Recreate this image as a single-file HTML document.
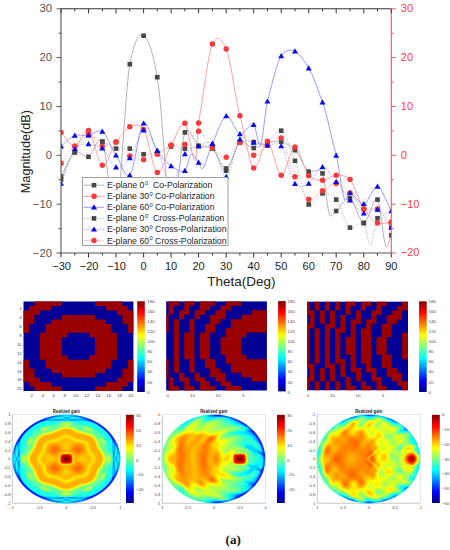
<!DOCTYPE html>
<html><head><meta charset="utf-8"><style>
html,body{margin:0;padding:0;background:#fff;width:450px;height:550px;overflow:hidden}
body{position:relative}
</style></head><body>
<svg width="450" height="550" viewBox="0 0 450 550" style="position:absolute;left:0;top:0"><defs><linearGradient id="jet" x1="0" y1="0" x2="0" y2="1"><stop offset="0.000" stop-color="#800000"/><stop offset="0.125" stop-color="#ff0000"/><stop offset="0.375" stop-color="#ffff00"/><stop offset="0.625" stop-color="#00ffff"/><stop offset="0.875" stop-color="#0000ff"/><stop offset="1.000" stop-color="#000080"/></linearGradient></defs>
<defs><clipPath id="pc"><rect x="61.0" y="8.8" width="330.3" height="244.2"/></clipPath></defs>
<g clip-path="url(#pc)">
<path d="M61.0,176.6 L62.4,174.0 L63.8,171.2 L65.1,168.3 L66.5,165.4 L67.9,162.5 L69.3,159.7 L70.6,157.3 L72.0,155.1 L73.4,153.4 L74.8,152.3 L76.1,151.8 L77.5,151.8 L78.9,152.3 L80.3,153.1 L81.6,154.0 L83.0,155.0 L84.4,155.9 L85.8,156.6 L87.1,156.9 L88.5,156.8 L89.9,155.8 L91.3,153.9 L92.7,151.3 L94.0,148.5 L95.4,145.6 L96.8,143.1 L98.2,141.1 L99.5,140.0 L100.9,140.1 L102.3,141.7 L103.7,146.0 L105.0,153.4 L106.4,162.9 L107.8,173.8 L109.2,185.0 L110.5,195.6 L111.9,204.7 L113.3,211.4 L114.7,214.8 L116.0,213.9 L117.4,207.7 L118.8,196.6 L120.2,181.5 L121.6,163.7 L122.9,144.4 L124.3,124.6 L125.7,105.6 L127.1,88.4 L128.4,74.2 L129.8,64.2 L131.2,57.2 L132.6,51.3 L133.9,46.5 L135.3,42.7 L136.7,39.8 L138.1,37.6 L139.4,36.2 L140.8,35.5 L142.2,35.3 L143.6,35.7 L145.0,36.6 L146.3,38.3 L147.7,40.7 L149.1,43.8 L150.5,47.6 L151.8,52.2 L153.2,57.4 L154.6,63.3 L156.0,69.9 L157.3,77.2 L158.7,86.9 L160.1,100.3 L161.5,116.4 L162.8,134.0 L164.2,152.1 L165.6,169.7 L167.0,185.7 L168.3,199.1 L169.7,208.9 L171.1,213.9 L172.5,213.8 L173.9,209.4 L175.2,201.6 L176.6,191.4 L178.0,179.7 L179.4,167.5 L180.7,155.7 L182.1,145.3 L183.5,137.2 L184.9,132.4 L186.2,130.4 L187.6,129.9 L189.0,130.7 L190.4,132.4 L191.7,134.8 L193.1,137.5 L194.5,140.3 L195.9,142.8 L197.2,144.8 L198.6,146.0 L200.0,146.6 L201.4,146.9 L202.8,147.0 L204.1,147.0 L205.5,146.9 L206.9,146.9 L208.3,147.0 L209.6,147.2 L211.0,147.7 L212.4,148.5 L213.8,149.8 L215.1,151.9 L216.5,154.4 L217.9,157.1 L219.3,160.0 L220.6,162.7 L222.0,165.1 L223.4,167.0 L224.8,168.2 L226.2,168.5 L227.5,167.7 L228.9,165.8 L230.3,163.1 L231.7,159.9 L233.0,156.3 L234.4,152.7 L235.8,149.3 L237.2,146.3 L238.5,144.0 L239.9,142.6 L241.3,142.1 L242.7,142.1 L244.0,142.5 L245.4,143.2 L246.8,144.2 L248.2,145.2 L249.5,146.3 L250.9,147.1 L252.3,147.7 L253.7,148.0 L255.1,147.9 L256.4,147.6 L257.8,147.1 L259.2,146.6 L260.6,145.9 L261.9,145.2 L263.3,144.6 L264.7,144.0 L266.1,143.5 L267.4,143.1 L268.8,142.8 L270.2,142.5 L271.6,142.2 L272.9,141.9 L274.3,141.7 L275.7,141.5 L277.1,141.3 L278.4,141.3 L279.8,141.4 L281.2,141.6 L282.6,142.0 L284.0,142.5 L285.3,143.1 L286.7,143.9 L288.1,144.7 L289.5,145.6 L290.8,146.7 L292.2,147.8 L293.6,148.9 L295.0,150.2 L296.3,151.7 L297.7,153.7 L299.1,156.1 L300.5,158.6 L301.8,161.2 L303.2,163.9 L304.6,166.3 L306.0,168.5 L307.3,170.3 L308.7,171.6 L310.1,172.2 L311.5,172.3 L312.9,171.9 L314.2,171.3 L315.6,170.7 L317.0,170.2 L318.4,170.1 L319.7,170.4 L321.1,171.5 L322.5,173.4 L323.2,175.4 L323.9,178.6 L324.6,182.9 L325.2,187.9 L325.9,193.2 L326.6,198.5 L327.3,203.6 L328.0,208.1 L328.7,211.6 L329.4,213.9 L330.1,215.2 L330.7,215.8 L331.4,215.9 L332.1,215.6 L332.8,215.0 L333.5,214.2 L334.2,213.3 L334.9,212.4 L335.6,211.6 L336.2,211.0 L337.6,209.9 L339.0,208.4 L340.4,206.6 L341.8,204.8 L343.1,202.9 L344.5,201.2 L345.9,199.7 L347.3,198.7 L348.6,198.2 L350.0,198.3 L351.4,199.4 L352.8,201.5 L354.1,204.3 L355.5,207.7 L356.9,211.2 L358.3,214.7 L359.6,217.9 L361.0,220.5 L362.4,222.3 L363.8,223.0 L365.2,222.2 L366.5,220.2 L367.9,217.2 L369.3,213.6 L370.7,209.8 L372.0,206.1 L373.4,202.9 L374.8,200.5 L376.2,199.3 L377.5,199.6 L378.4,201.4 L379.2,204.8 L380.0,209.6 L380.8,215.3 L381.7,221.5 L382.5,227.9 L383.3,233.9 L384.1,239.2 L385.0,243.5 L385.8,246.2 L386.3,246.9 L386.9,246.9 L387.4,246.3 L388.0,245.1 L388.5,243.6 L389.1,241.8 L389.6,240.0 L390.2,238.1 L390.7,236.5 L391.3,235.2" stroke="#a0a0a0" fill="none" stroke-width="0.8"/>
<path d="M61.0,132.5 L62.4,134.0 L63.8,135.7 L65.1,137.5 L66.5,139.4 L67.9,141.2 L69.3,142.8 L70.6,144.2 L72.0,145.3 L73.4,146.0 L74.8,146.2 L76.1,145.6 L77.5,144.2 L78.9,142.2 L80.3,139.8 L81.6,137.2 L83.0,134.8 L84.4,132.6 L85.8,131.1 L87.1,130.3 L88.5,130.5 L89.9,132.1 L91.3,135.0 L92.7,138.9 L94.0,143.5 L95.4,148.3 L96.8,153.1 L98.2,157.6 L99.5,161.3 L100.9,164.0 L102.3,165.3 L103.7,165.2 L105.0,164.0 L106.4,162.0 L107.8,159.4 L109.2,156.3 L110.5,153.0 L111.9,149.7 L113.3,146.7 L114.7,144.0 L116.0,142.0 L117.4,140.3 L118.8,138.5 L120.2,136.6 L121.6,134.8 L122.9,133.0 L124.3,131.3 L125.7,129.8 L127.1,128.5 L128.4,127.4 L129.8,126.7 L131.2,126.2 L132.6,125.7 L133.9,125.3 L135.3,125.0 L136.7,124.9 L138.1,125.1 L139.4,125.6 L140.8,126.4 L142.2,127.7 L143.6,129.4 L145.0,132.1 L146.3,136.1 L147.7,141.1 L149.1,146.7 L150.5,152.5 L151.8,158.2 L153.2,163.3 L154.6,167.7 L156.0,170.8 L157.3,172.4 L158.7,172.4 L160.1,171.1 L161.5,168.9 L162.8,165.8 L164.2,162.3 L165.6,158.5 L167.0,154.7 L168.3,151.0 L169.7,147.8 L171.1,145.3 L172.5,142.9 L173.9,140.1 L175.2,137.0 L176.6,133.9 L178.0,130.8 L179.4,128.0 L180.7,125.7 L182.1,124.0 L183.5,123.2 L184.9,123.3 L185.9,124.8 L187.0,127.9 L188.0,132.2 L189.0,137.3 L190.1,142.7 L191.1,148.1 L192.2,153.0 L193.2,157.0 L194.3,159.7 L195.3,160.7 L195.7,159.8 L196.0,157.4 L196.3,153.8 L196.6,149.3 L197.0,144.3 L197.3,139.1 L197.6,134.0 L198.0,129.5 L198.3,125.7 L198.6,123.1 L200.0,114.7 L201.4,105.6 L202.8,96.2 L204.1,86.7 L205.5,77.5 L206.9,68.7 L208.3,60.6 L209.6,53.7 L211.0,48.0 L212.4,44.0 L213.8,41.3 L215.1,39.5 L216.5,38.5 L217.9,38.3 L219.3,38.8 L220.6,39.9 L222.0,41.5 L223.4,43.6 L224.8,46.2 L226.2,49.1 L227.5,53.0 L228.9,58.3 L230.3,64.8 L231.7,72.1 L233.0,79.9 L234.4,87.9 L235.8,95.9 L237.2,103.3 L238.5,110.1 L239.9,115.8 L241.3,121.2 L242.7,127.3 L244.0,133.8 L245.4,140.4 L246.8,146.8 L248.2,152.9 L249.5,158.3 L250.9,162.8 L252.3,166.1 L253.7,168.0 L255.1,168.1 L256.4,166.5 L257.8,163.7 L259.2,159.9 L260.6,155.6 L261.9,151.3 L263.3,147.3 L264.7,144.0 L266.1,141.9 L267.4,141.3 L268.8,142.5 L270.2,145.1 L271.6,148.9 L272.9,153.4 L274.3,158.3 L275.7,163.2 L277.1,167.7 L278.4,171.5 L279.8,174.1 L281.2,175.2 L282.6,174.6 L284.0,172.6 L285.3,169.5 L286.7,165.6 L288.1,161.4 L289.5,157.2 L290.8,153.3 L292.2,150.1 L293.6,147.9 L295.0,147.1 L296.3,147.8 L297.7,149.7 L299.1,152.4 L300.5,155.9 L301.8,159.7 L303.2,163.6 L304.6,167.5 L306.0,170.9 L307.3,173.7 L308.7,175.7 L310.1,177.0 L311.5,178.0 L312.9,178.7 L314.2,179.3 L315.6,179.7 L317.0,180.0 L318.4,180.2 L319.7,180.2 L321.1,180.2 L322.5,180.2 L323.9,180.1 L325.2,179.7 L326.6,179.2 L328.0,178.5 L329.4,177.8 L330.7,177.1 L332.1,176.4 L333.5,175.9 L334.9,175.5 L336.2,175.3 L337.6,175.3 L339.0,175.3 L340.4,175.3 L341.8,175.4 L343.1,175.6 L344.5,176.0 L345.9,176.6 L347.3,177.3 L348.6,178.3 L350.0,179.6 L351.4,181.4 L352.8,183.9 L354.1,186.9 L355.5,190.3 L356.9,193.8 L358.3,197.4 L359.6,200.9 L361.0,204.1 L362.4,206.9 L363.8,209.0 L365.2,210.9 L366.5,212.7 L367.9,214.4 L369.3,216.1 L370.7,217.6 L372.0,219.0 L373.4,220.3 L374.8,221.4 L376.2,222.3 L377.5,223.0 L378.9,223.4 L380.3,223.6 L381.7,223.7 L383.0,223.6 L384.4,223.4 L385.8,223.1 L387.2,222.8 L388.5,222.6 L389.9,222.4 L391.3,222.2" stroke="#ff8a8a" fill="none" stroke-width="0.8"/>
<path d="M61.0,146.2 L62.4,145.1 L63.8,143.9 L65.1,142.6 L66.5,141.4 L67.9,140.1 L69.3,139.0 L70.6,137.9 L72.0,136.9 L73.4,136.2 L74.8,135.6 L76.1,135.2 L77.5,135.0 L78.9,135.0 L80.3,135.0 L81.6,135.1 L83.0,135.2 L84.4,135.3 L85.8,135.4 L87.1,135.4 L88.5,135.3 L89.9,135.0 L91.3,134.4 L92.7,133.7 L94.0,132.9 L95.4,132.2 L96.8,131.5 L98.2,131.1 L99.5,130.9 L100.9,131.0 L102.3,131.6 L103.7,132.8 L105.0,134.6 L106.4,136.8 L107.8,139.4 L109.2,142.2 L110.5,145.1 L111.9,148.0 L113.3,150.8 L114.7,153.2 L116.0,155.3 L117.4,157.5 L118.8,160.2 L120.2,163.2 L121.6,166.3 L122.9,169.3 L124.3,172.0 L125.7,174.2 L127.1,175.6 L128.4,176.0 L129.8,175.3 L131.2,172.9 L132.6,168.5 L133.9,162.8 L135.3,156.1 L136.7,149.0 L138.1,141.9 L139.4,135.3 L140.8,129.7 L142.2,125.6 L143.6,123.4 L145.0,123.2 L146.3,124.3 L147.7,126.6 L149.1,129.8 L150.5,133.5 L151.8,137.5 L153.2,141.5 L154.6,145.2 L156.0,148.4 L157.3,150.7 L158.7,152.5 L160.1,154.3 L161.5,156.1 L162.8,157.9 L164.2,159.6 L165.6,161.2 L167.0,162.6 L168.3,164.0 L169.7,165.1 L171.1,166.1 L172.5,166.9 L173.9,167.9 L175.2,168.8 L176.6,169.6 L178.0,170.3 L179.4,170.9 L180.7,171.3 L182.1,171.4 L183.5,171.2 L184.9,170.7 L185.5,170.0 L186.2,168.6 L186.8,166.8 L187.5,164.6 L188.2,162.3 L188.8,159.9 L189.5,157.8 L190.1,155.9 L190.8,154.6 L191.5,153.9 L192.2,153.7 L192.9,154.1 L193.6,154.7 L194.3,155.7 L195.0,156.8 L195.8,158.1 L196.5,159.4 L197.2,160.6 L197.9,161.7 L198.6,162.6 L199.0,163.2 L199.5,164.0 L199.9,164.9 L200.3,165.8 L200.7,166.8 L201.1,167.6 L201.5,168.3 L201.9,168.7 L202.3,168.8 L202.8,168.5 L203.7,167.0 L204.7,165.0 L205.6,162.5 L206.6,159.8 L207.6,156.8 L208.5,153.8 L209.5,150.8 L210.5,148.0 L211.4,145.4 L212.4,143.4 L213.8,140.5 L215.1,137.3 L216.5,133.8 L217.9,130.3 L219.3,126.9 L220.6,123.7 L222.0,120.8 L223.4,118.5 L224.8,116.9 L226.2,116.0 L227.5,116.2 L228.9,117.2 L230.3,119.1 L231.7,121.4 L233.0,124.0 L234.4,126.7 L235.8,129.3 L237.2,131.5 L238.5,133.1 L239.9,134.0 L241.3,134.0 L242.7,133.3 L244.0,132.1 L245.4,130.7 L246.8,129.0 L248.2,127.5 L249.5,126.1 L250.9,125.0 L252.3,124.5 L253.7,124.7 L254.4,125.6 L255.1,127.5 L255.7,130.1 L256.4,133.1 L257.1,136.3 L257.8,139.3 L258.5,141.9 L259.2,143.9 L259.9,144.8 L260.6,144.6 L261.2,142.8 L261.9,139.6 L262.6,135.4 L263.3,130.3 L264.0,124.9 L264.7,119.2 L265.4,113.8 L266.1,108.7 L266.7,104.5 L267.4,101.4 L268.8,96.2 L270.2,90.9 L271.6,85.5 L272.9,80.2 L274.3,75.1 L275.7,70.2 L277.1,65.8 L278.4,61.9 L279.8,58.6 L281.2,56.0 L282.6,54.1 L284.0,52.6 L285.3,51.6 L286.7,50.8 L288.1,50.4 L289.5,50.2 L290.8,50.2 L292.2,50.4 L293.6,50.8 L295.0,51.3 L296.3,52.0 L297.7,53.0 L299.1,54.3 L300.5,55.9 L301.8,57.7 L303.2,59.6 L304.6,61.7 L306.0,63.8 L307.3,66.0 L308.7,68.2 L310.1,70.6 L311.5,73.3 L312.9,76.4 L314.2,79.7 L315.6,83.3 L317.0,87.0 L318.4,90.8 L319.7,94.6 L321.1,98.5 L322.5,102.2 L323.9,106.3 L325.2,110.9 L326.6,116.0 L328.0,121.4 L329.4,127.1 L330.7,133.0 L332.1,138.8 L333.5,144.7 L334.9,150.3 L336.2,155.6 L337.1,159.2 L337.9,163.5 L338.7,168.4 L339.6,173.6 L340.4,178.9 L341.2,184.1 L342.0,189.0 L342.9,193.3 L343.7,196.8 L344.5,199.3 L345.1,200.1 L345.6,200.2 L346.2,199.7 L346.7,198.8 L347.3,197.5 L347.8,196.2 L348.4,194.9 L348.9,193.8 L349.5,193.1 L350.0,192.9 L351.4,193.5 L352.8,194.5 L354.1,195.9 L355.5,197.5 L356.9,199.1 L358.3,200.7 L359.6,202.1 L361.0,203.2 L362.4,203.9 L363.8,203.9 L365.2,203.2 L366.5,201.7 L367.9,199.6 L369.3,197.1 L370.7,194.5 L372.0,192.0 L373.4,189.7 L374.8,187.9 L376.2,186.8 L377.5,186.6 L378.9,187.3 L380.3,188.7 L381.7,190.8 L383.0,193.3 L384.4,196.1 L385.8,199.2 L387.2,202.3 L388.5,205.4 L389.9,208.4 L391.3,211.0" stroke="#8080ff" fill="none" stroke-width="0.8"/>
<path d="M61.0,179.7 L62.4,176.9 L63.8,174.0 L65.1,171.0 L66.5,167.9 L67.9,165.0 L69.3,162.0 L70.6,159.3 L72.0,156.7 L73.4,154.3 L74.8,152.3 L76.1,150.3 L77.5,148.2 L78.9,146.1 L80.3,144.0 L81.6,141.9 L83.0,140.0 L84.4,138.4 L85.8,136.9 L87.1,135.9 L88.5,135.2 L89.9,135.0 L91.3,135.1 L92.7,135.6 L94.0,136.3 L95.4,137.2 L96.8,138.2 L98.2,139.2 L99.5,140.1 L100.9,141.0 L102.3,141.7 L103.7,142.3 L105.0,143.1 L106.4,143.8 L107.8,144.7 L109.2,145.5 L110.5,146.3 L111.9,147.1 L113.3,147.7 L114.7,148.2 L116.0,148.6 L117.4,148.8 L118.8,148.9 L120.2,148.9 L121.6,148.8 L122.9,148.7 L124.3,148.6 L125.7,148.5 L127.1,148.4 L128.4,148.5 L129.8,148.6 L131.2,149.0 L132.6,149.5 L133.9,150.1 L135.3,150.8 L136.7,151.5 L138.1,152.3 L139.4,153.0 L140.8,153.6 L142.2,154.0 L143.6,154.3 L145.0,154.4 L146.3,154.5 L147.7,154.5 L149.1,154.4 L150.5,154.2 L151.8,154.0 L153.2,153.8 L154.6,153.5 L156.0,153.2 L157.3,152.9 L158.7,152.4 L160.1,151.9 L161.5,151.1 L162.8,150.3 L164.2,149.5 L165.6,148.7 L167.0,148.0 L168.3,147.3 L169.7,146.8 L171.1,146.5 L172.5,146.4 L173.9,146.5 L175.2,146.7 L176.6,147.0 L178.0,147.4 L179.4,147.7 L180.7,148.1 L182.1,148.4 L183.5,148.6 L184.9,148.6 L186.2,148.5 L187.6,148.3 L189.0,148.0 L190.4,147.7 L191.7,147.3 L193.1,146.9 L194.5,146.6 L195.9,146.3 L197.2,146.1 L198.6,146.0 L200.0,146.0 L201.4,146.0 L202.8,145.9 L204.1,145.9 L205.5,145.9 L206.9,146.1 L208.3,146.4 L209.6,146.9 L211.0,147.6 L212.4,148.5 L213.8,150.0 L215.1,152.2 L216.5,155.0 L217.9,158.1 L219.3,161.2 L220.6,164.2 L222.0,166.9 L223.4,169.0 L224.8,170.4 L226.2,170.7 L227.5,169.8 L228.9,167.9 L230.3,165.0 L231.7,161.6 L233.0,157.9 L234.4,154.0 L235.8,150.3 L237.2,147.0 L238.5,144.4 L239.9,142.6 L241.3,141.6 L242.7,141.0 L244.0,140.7 L245.4,140.7 L246.8,140.8 L248.2,141.1 L249.5,141.4 L250.9,141.8 L252.3,142.0 L253.7,142.1 L255.1,142.2 L256.4,142.4 L257.8,142.7 L259.2,143.0 L260.6,143.3 L261.9,143.5 L263.3,143.6 L264.7,143.6 L266.1,143.5 L267.4,143.1 L268.8,142.3 L270.2,140.9 L271.6,139.2 L272.9,137.3 L274.3,135.3 L275.7,133.5 L277.1,131.9 L278.4,130.8 L279.8,130.4 L281.2,130.7 L282.6,131.8 L284.0,133.7 L285.3,136.3 L286.7,139.3 L288.1,142.7 L289.5,146.4 L290.8,150.2 L292.2,153.9 L293.6,157.5 L295.0,160.8 L296.3,164.4 L297.7,168.9 L299.1,173.9 L300.5,179.3 L301.8,184.8 L303.2,190.0 L304.6,194.9 L306.0,199.1 L307.3,202.3 L308.7,204.4 L310.1,205.2 L311.5,205.1 L312.9,204.2 L314.2,202.7 L315.6,200.9 L317.0,198.9 L318.4,196.9 L319.7,195.3 L321.1,194.0 L322.5,193.4 L323.9,193.3 L325.2,193.3 L326.6,193.5 L328.0,193.9 L329.4,194.4 L330.7,195.1 L332.1,196.0 L333.5,197.0 L334.9,198.2 L336.2,199.6 L337.6,201.5 L339.0,204.1 L340.4,207.2 L341.8,210.6 L343.1,214.2 L344.5,217.7 L345.9,221.0 L347.3,223.9 L348.6,226.1 L350.0,227.6 L351.4,228.2 L352.8,228.1 L354.1,227.4 L355.5,226.4 L356.9,225.2 L358.3,224.1 L359.6,223.1 L361.0,222.5 L362.4,222.4 L363.8,223.0 L364.5,224.0 L365.2,226.0 L365.8,228.7 L366.5,231.9 L367.2,235.2 L367.9,238.5 L368.6,241.4 L369.3,243.7 L370.0,245.2 L370.7,245.7 L371.3,244.8 L372.0,242.7 L372.7,239.8 L373.4,236.3 L374.1,232.4 L374.8,228.5 L375.5,224.9 L376.2,221.8 L376.8,219.5 L377.5,218.3 L378.9,217.7 L380.3,217.7 L381.7,218.2 L383.0,219.2 L384.4,220.5 L385.8,222.0 L387.2,223.6 L388.5,225.1 L389.9,226.5 L391.3,227.6" stroke="#a0a0a0" fill="none" stroke-width="0.8" stroke-dasharray="1.2,1.6"/>
<path d="M61.0,183.6 L62.4,180.0 L63.8,176.1 L65.1,172.1 L66.5,168.0 L67.9,164.0 L69.3,160.2 L70.6,156.7 L72.0,153.5 L73.4,150.9 L74.8,148.9 L76.1,147.4 L77.5,146.2 L78.9,145.4 L80.3,144.8 L81.6,144.4 L83.0,144.2 L84.4,144.1 L85.8,144.1 L87.1,144.1 L88.5,144.1 L89.9,144.1 L91.3,144.2 L92.7,144.3 L94.0,144.6 L95.4,145.0 L96.8,145.4 L98.2,146.0 L99.5,146.6 L100.9,147.4 L102.3,148.3 L103.7,149.6 L105.0,151.4 L106.4,153.6 L107.8,156.0 L109.2,158.5 L110.5,161.0 L111.9,163.2 L113.3,165.1 L114.7,166.5 L116.0,167.3 L117.4,167.5 L118.8,167.4 L120.2,166.9 L121.6,166.1 L122.9,165.1 L124.3,163.9 L125.7,162.6 L127.1,161.1 L128.4,159.6 L129.8,158.0 L131.2,156.0 L132.6,153.2 L133.9,149.9 L135.3,146.3 L136.7,142.5 L138.1,138.9 L139.4,135.7 L140.8,133.0 L142.2,131.1 L143.6,130.2 L145.0,130.3 L146.3,131.2 L147.7,132.7 L149.1,134.8 L150.5,137.2 L151.8,139.8 L153.2,142.7 L154.6,145.5 L156.0,148.2 L157.3,150.7 L158.7,153.5 L160.1,157.1 L161.5,161.3 L162.8,165.8 L164.2,170.4 L165.6,174.7 L167.0,178.5 L168.3,181.7 L169.7,183.8 L171.1,184.6 L172.5,184.0 L173.9,182.1 L175.2,179.3 L176.6,175.6 L178.0,171.5 L179.4,167.3 L180.7,163.1 L182.1,159.3 L183.5,156.2 L184.9,154.0 L186.2,152.5 L187.6,151.2 L189.0,150.1 L190.4,149.2 L191.7,148.5 L193.1,147.9 L194.5,147.3 L195.9,146.9 L197.2,146.5 L198.6,146.0 L200.0,145.5 L201.4,144.9 L202.8,144.2 L204.1,143.5 L205.5,142.9 L206.9,142.5 L208.3,142.3 L209.6,142.5 L211.0,143.0 L212.4,144.1 L213.8,146.1 L215.1,149.2 L216.5,153.2 L217.9,157.7 L219.3,162.3 L220.6,166.8 L222.0,170.9 L223.4,174.1 L224.8,176.2 L226.2,176.8 L227.5,175.7 L228.9,173.1 L230.3,169.3 L231.7,164.7 L233.0,159.6 L234.4,154.4 L235.8,149.4 L237.2,145.0 L238.5,141.6 L239.9,139.3 L241.3,138.2 L242.7,137.7 L244.0,137.8 L245.4,138.2 L246.8,138.9 L248.2,139.7 L249.5,140.6 L250.9,141.5 L252.3,142.2 L253.7,142.6 L255.1,142.9 L256.4,143.2 L257.8,143.5 L259.2,143.8 L260.6,144.1 L261.9,144.4 L263.3,144.7 L264.7,144.9 L266.1,145.1 L267.4,145.3 L268.8,145.3 L270.2,145.0 L271.6,144.7 L272.9,144.2 L274.3,143.8 L275.7,143.6 L277.1,143.6 L278.4,143.9 L279.8,144.7 L281.2,146.0 L282.6,148.3 L284.0,151.5 L285.3,155.6 L286.7,160.1 L288.1,164.9 L289.5,169.7 L290.8,174.2 L292.2,178.3 L293.6,181.5 L295.0,183.7 L296.3,185.0 L297.7,186.0 L299.1,186.5 L300.5,186.6 L301.8,186.5 L303.2,186.2 L304.6,185.7 L306.0,185.0 L307.3,184.3 L308.7,183.6 L310.1,182.6 L311.5,181.0 L312.9,179.0 L314.2,176.8 L315.6,174.6 L317.0,172.3 L318.4,170.3 L319.7,168.7 L321.1,167.6 L322.5,167.1 L323.9,167.3 L325.2,168.1 L326.6,169.2 L328.0,170.8 L329.4,172.5 L330.7,174.4 L332.1,176.4 L333.5,178.3 L334.9,180.1 L336.2,181.7 L337.6,183.2 L339.0,185.0 L340.4,186.9 L341.8,189.0 L343.1,191.0 L344.5,193.1 L345.9,195.1 L347.3,197.0 L348.6,198.8 L350.0,200.3 L351.4,201.7 L352.8,203.2 L354.1,204.8 L355.5,206.5 L356.9,208.0 L358.3,209.5 L359.6,210.9 L361.0,212.0 L362.4,212.9 L363.8,213.4 L365.2,213.6 L366.5,213.3 L367.9,212.8 L369.3,212.1 L370.7,211.2 L372.0,210.4 L373.4,209.7 L374.8,209.3 L376.2,209.2 L377.5,209.5 L378.9,210.4 L380.3,211.6 L381.7,213.2 L383.0,215.0 L384.4,217.1 L385.8,219.2 L387.2,221.4 L388.5,223.6 L389.9,225.7 L391.3,227.6" stroke="#8080ff" fill="none" stroke-width="0.8" stroke-dasharray="1.2,1.6"/>
<path d="M61.0,163.2 L62.4,161.4 L63.8,159.6 L65.1,157.8 L66.5,156.0 L67.9,154.1 L69.3,152.3 L70.6,150.6 L72.0,149.0 L73.4,147.5 L74.8,146.2 L76.1,144.8 L77.5,143.3 L78.9,141.7 L80.3,140.0 L81.6,138.4 L83.0,137.0 L84.4,135.7 L85.8,134.7 L87.1,134.1 L88.5,133.8 L89.9,134.2 L91.3,135.0 L92.7,136.3 L94.0,137.9 L95.4,139.6 L96.8,141.4 L98.2,143.1 L99.5,144.5 L100.9,145.7 L102.3,146.3 L103.7,146.4 L105.0,146.1 L106.4,145.6 L107.8,144.9 L109.2,144.1 L110.5,143.2 L111.9,142.5 L113.3,142.0 L114.7,141.8 L116.0,142.0 L117.4,142.6 L118.8,143.7 L120.2,145.1 L121.6,146.8 L122.9,148.5 L124.3,150.3 L125.7,152.1 L127.1,153.7 L128.4,155.0 L129.8,156.0 L131.2,156.7 L132.6,157.3 L133.9,157.9 L135.3,158.5 L136.7,158.9 L138.1,159.3 L139.4,159.6 L140.8,159.7 L142.2,159.8 L143.6,159.8 L145.0,159.7 L146.3,159.3 L147.7,158.9 L149.1,158.4 L150.5,157.7 L151.8,157.1 L153.2,156.3 L154.6,155.6 L156.0,154.9 L157.3,154.3 L158.7,153.6 L160.1,152.7 L161.5,151.7 L162.8,150.6 L164.2,149.6 L165.6,148.5 L167.0,147.5 L168.3,146.6 L169.7,145.8 L171.1,145.3 L172.5,145.0 L173.9,144.9 L175.2,144.9 L176.6,144.9 L178.0,145.1 L179.4,145.2 L180.7,145.2 L182.1,145.1 L183.5,144.9 L184.9,144.4 L186.2,143.5 L187.6,142.2 L189.0,140.6 L190.4,138.8 L191.7,136.9 L193.1,135.1 L194.5,133.5 L195.9,132.3 L197.2,131.5 L198.6,131.3 L200.0,131.8 L201.4,132.9 L202.8,134.4 L204.1,136.3 L205.5,138.5 L206.9,140.7 L208.3,142.9 L209.6,144.9 L211.0,146.6 L212.4,148.0 L213.8,149.2 L215.1,150.4 L216.5,151.8 L217.9,153.1 L219.3,154.3 L220.6,155.4 L222.0,156.3 L223.4,157.0 L224.8,157.3 L226.2,157.3 L227.5,156.7 L228.9,155.5 L230.3,153.8 L231.7,151.9 L233.0,149.8 L234.4,147.7 L235.8,145.8 L237.2,144.2 L238.5,143.1 L239.9,142.6 L241.3,142.9 L242.7,143.8 L244.0,145.2 L245.4,146.9 L246.8,148.7 L248.2,150.6 L249.5,152.3 L250.9,153.8 L252.3,154.9 L253.7,155.3 L255.1,155.2 L256.4,154.7 L257.8,153.9 L259.2,152.8 L260.6,151.5 L261.9,150.2 L263.3,148.8 L264.7,147.6 L266.1,146.4 L267.4,145.6 L268.8,144.6 L270.2,143.4 L271.6,142.0 L272.9,140.6 L274.3,139.2 L275.7,138.0 L277.1,137.2 L278.4,136.8 L279.8,137.1 L281.2,138.0 L282.6,139.9 L284.0,142.9 L285.3,146.7 L286.7,151.1 L288.1,155.8 L289.5,160.7 L290.8,165.4 L292.2,169.9 L293.6,173.7 L295.0,176.8 L296.3,179.5 L297.7,182.3 L299.1,185.1 L300.5,187.9 L301.8,190.6 L303.2,193.0 L304.6,195.2 L306.0,197.0 L307.3,198.4 L308.7,199.3 L310.1,199.6 L311.5,199.3 L312.9,198.7 L314.2,197.7 L315.6,196.5 L317.0,195.2 L318.4,193.9 L319.7,192.6 L321.1,191.5 L322.5,190.7 L323.9,189.9 L325.2,189.1 L326.6,188.1 L328.0,187.2 L329.4,186.2 L330.7,185.3 L332.1,184.6 L333.5,184.0 L334.9,183.7 L336.2,183.6 L337.6,183.9 L339.0,184.4 L340.4,185.1 L341.8,186.0 L343.1,187.1 L344.5,188.2 L345.9,189.4 L347.3,190.6 L348.6,191.8 L350.0,192.9 L351.4,194.2 L352.8,195.8 L354.1,197.6 L355.5,199.5 L356.9,201.5 L358.3,203.4 L359.6,205.2 L361.0,206.8 L362.4,208.1 L363.8,209.0 L365.2,209.5 L366.5,209.7 L367.9,209.7 L369.3,209.5 L370.7,209.2 L372.0,208.9 L373.4,208.7 L374.8,208.5 L376.2,208.7 L377.5,209.0 L378.9,209.7 L380.3,210.7 L381.7,211.9 L383.0,213.2 L384.4,214.7 L385.8,216.2 L387.2,217.8 L388.5,219.4 L389.9,220.8 L391.3,222.2" stroke="#ff8a8a" fill="none" stroke-width="0.8" stroke-dasharray="1.2,1.6"/>
<rect x="58.7" y="174.3" width="4.6" height="4.6" fill="#474747"/>
<rect x="72.5" y="150.0" width="4.6" height="4.6" fill="#474747"/>
<rect x="86.2" y="154.5" width="4.6" height="4.6" fill="#474747"/>
<rect x="100.0" y="139.4" width="4.6" height="4.6" fill="#474747"/>
<rect x="113.8" y="211.6" width="4.6" height="4.6" fill="#474747"/>
<rect x="127.5" y="61.9" width="4.6" height="4.6" fill="#474747"/>
<rect x="141.3" y="33.4" width="4.6" height="4.6" fill="#474747"/>
<rect x="155.0" y="74.9" width="4.6" height="4.6" fill="#474747"/>
<rect x="168.8" y="211.6" width="4.6" height="4.6" fill="#474747"/>
<rect x="182.6" y="130.1" width="4.6" height="4.6" fill="#474747"/>
<rect x="196.3" y="143.7" width="4.6" height="4.6" fill="#474747"/>
<rect x="210.1" y="146.2" width="4.6" height="4.6" fill="#474747"/>
<rect x="223.8" y="166.2" width="4.6" height="4.6" fill="#474747"/>
<rect x="237.6" y="140.3" width="4.6" height="4.6" fill="#474747"/>
<rect x="251.4" y="145.7" width="4.6" height="4.6" fill="#474747"/>
<rect x="265.1" y="140.8" width="4.6" height="4.6" fill="#474747"/>
<rect x="278.9" y="139.3" width="4.6" height="4.6" fill="#474747"/>
<rect x="292.7" y="147.9" width="4.6" height="4.6" fill="#474747"/>
<rect x="306.4" y="169.3" width="4.6" height="4.6" fill="#474747"/>
<rect x="320.2" y="171.1" width="4.6" height="4.6" fill="#474747"/>
<rect x="333.9" y="208.7" width="4.6" height="4.6" fill="#474747"/>
<rect x="347.7" y="196.0" width="4.6" height="4.6" fill="#474747"/>
<rect x="361.5" y="220.7" width="4.6" height="4.6" fill="#474747"/>
<rect x="375.2" y="197.3" width="4.6" height="4.6" fill="#474747"/>
<rect x="389.0" y="232.9" width="4.6" height="4.6" fill="#474747"/>
<rect x="58.7" y="177.4" width="4.6" height="4.6" fill="#474747"/>
<rect x="72.5" y="150.0" width="4.6" height="4.6" fill="#474747"/>
<rect x="86.2" y="132.9" width="4.6" height="4.6" fill="#474747"/>
<rect x="100.0" y="139.4" width="4.6" height="4.6" fill="#474747"/>
<rect x="113.8" y="146.3" width="4.6" height="4.6" fill="#474747"/>
<rect x="127.5" y="146.3" width="4.6" height="4.6" fill="#474747"/>
<rect x="141.3" y="152.0" width="4.6" height="4.6" fill="#474747"/>
<rect x="155.0" y="150.6" width="4.6" height="4.6" fill="#474747"/>
<rect x="168.8" y="144.2" width="4.6" height="4.6" fill="#474747"/>
<rect x="182.6" y="146.3" width="4.6" height="4.6" fill="#474747"/>
<rect x="196.3" y="143.7" width="4.6" height="4.6" fill="#474747"/>
<rect x="210.1" y="146.2" width="4.6" height="4.6" fill="#474747"/>
<rect x="223.8" y="168.4" width="4.6" height="4.6" fill="#474747"/>
<rect x="237.6" y="140.3" width="4.6" height="4.6" fill="#474747"/>
<rect x="251.4" y="139.8" width="4.6" height="4.6" fill="#474747"/>
<rect x="265.1" y="140.8" width="4.6" height="4.6" fill="#474747"/>
<rect x="278.9" y="128.4" width="4.6" height="4.6" fill="#474747"/>
<rect x="292.7" y="158.5" width="4.6" height="4.6" fill="#474747"/>
<rect x="306.4" y="202.1" width="4.6" height="4.6" fill="#474747"/>
<rect x="320.2" y="191.1" width="4.6" height="4.6" fill="#474747"/>
<rect x="333.9" y="197.3" width="4.6" height="4.6" fill="#474747"/>
<rect x="347.7" y="225.3" width="4.6" height="4.6" fill="#474747"/>
<rect x="361.5" y="220.7" width="4.6" height="4.6" fill="#474747"/>
<rect x="375.2" y="216.0" width="4.6" height="4.6" fill="#474747"/>
<rect x="389.0" y="225.3" width="4.6" height="4.6" fill="#474747"/>
<circle cx="61.0" cy="132.5" r="2.75" fill="#f83a3a"/>
<circle cx="74.8" cy="146.2" r="2.75" fill="#f83a3a"/>
<circle cx="88.5" cy="130.5" r="2.75" fill="#f83a3a"/>
<circle cx="102.3" cy="165.3" r="2.75" fill="#f83a3a"/>
<circle cx="116.0" cy="142.0" r="2.75" fill="#f83a3a"/>
<circle cx="129.8" cy="126.7" r="2.75" fill="#f83a3a"/>
<circle cx="143.6" cy="129.4" r="2.75" fill="#f83a3a"/>
<circle cx="157.3" cy="172.4" r="2.75" fill="#f83a3a"/>
<circle cx="171.1" cy="145.3" r="2.75" fill="#f83a3a"/>
<circle cx="184.9" cy="123.3" r="2.75" fill="#f83a3a"/>
<circle cx="198.6" cy="123.1" r="2.75" fill="#f83a3a"/>
<circle cx="212.4" cy="44.0" r="2.75" fill="#f83a3a"/>
<circle cx="226.2" cy="49.1" r="2.75" fill="#f83a3a"/>
<circle cx="239.9" cy="115.8" r="2.75" fill="#f83a3a"/>
<circle cx="253.7" cy="168.0" r="2.75" fill="#f83a3a"/>
<circle cx="267.4" cy="141.3" r="2.75" fill="#f83a3a"/>
<circle cx="281.2" cy="175.2" r="2.75" fill="#f83a3a"/>
<circle cx="295.0" cy="147.1" r="2.75" fill="#f83a3a"/>
<circle cx="308.7" cy="175.7" r="2.75" fill="#f83a3a"/>
<circle cx="322.5" cy="180.2" r="2.75" fill="#f83a3a"/>
<circle cx="336.2" cy="175.3" r="2.75" fill="#f83a3a"/>
<circle cx="350.0" cy="179.6" r="2.75" fill="#f83a3a"/>
<circle cx="363.8" cy="209.0" r="2.75" fill="#f83a3a"/>
<circle cx="377.5" cy="223.0" r="2.75" fill="#f83a3a"/>
<circle cx="391.3" cy="222.2" r="2.75" fill="#f83a3a"/>
<circle cx="61.0" cy="163.2" r="2.75" fill="#f83a3a"/>
<circle cx="74.8" cy="146.2" r="2.75" fill="#f83a3a"/>
<circle cx="88.5" cy="133.8" r="2.75" fill="#f83a3a"/>
<circle cx="102.3" cy="146.3" r="2.75" fill="#f83a3a"/>
<circle cx="116.0" cy="142.0" r="2.75" fill="#f83a3a"/>
<circle cx="129.8" cy="156.0" r="2.75" fill="#f83a3a"/>
<circle cx="143.6" cy="159.8" r="2.75" fill="#f83a3a"/>
<circle cx="157.3" cy="154.3" r="2.75" fill="#f83a3a"/>
<circle cx="171.1" cy="145.3" r="2.75" fill="#f83a3a"/>
<circle cx="184.9" cy="144.4" r="2.75" fill="#f83a3a"/>
<circle cx="198.6" cy="131.3" r="2.75" fill="#f83a3a"/>
<circle cx="212.4" cy="148.0" r="2.75" fill="#f83a3a"/>
<circle cx="226.2" cy="157.3" r="2.75" fill="#f83a3a"/>
<circle cx="239.9" cy="142.6" r="2.75" fill="#f83a3a"/>
<circle cx="253.7" cy="155.3" r="2.75" fill="#f83a3a"/>
<circle cx="267.4" cy="145.6" r="2.75" fill="#f83a3a"/>
<circle cx="281.2" cy="138.0" r="2.75" fill="#f83a3a"/>
<circle cx="295.0" cy="176.8" r="2.75" fill="#f83a3a"/>
<circle cx="308.7" cy="199.3" r="2.75" fill="#f83a3a"/>
<circle cx="322.5" cy="190.7" r="2.75" fill="#f83a3a"/>
<circle cx="336.2" cy="183.6" r="2.75" fill="#f83a3a"/>
<circle cx="350.0" cy="192.9" r="2.75" fill="#f83a3a"/>
<circle cx="363.8" cy="209.0" r="2.75" fill="#f83a3a"/>
<circle cx="377.5" cy="209.0" r="2.75" fill="#f83a3a"/>
<circle cx="391.3" cy="222.2" r="2.75" fill="#f83a3a"/>
<path d="M61.0,143.2 L64.0,148.4 L58.0,148.4 Z" fill="#0a0ae8"/>
<path d="M74.8,132.6 L77.8,137.8 L71.8,137.8 Z" fill="#0a0ae8"/>
<path d="M88.5,132.3 L91.5,137.5 L85.5,137.5 Z" fill="#0a0ae8"/>
<path d="M102.3,128.6 L105.3,133.8 L99.3,133.8 Z" fill="#0a0ae8"/>
<path d="M116.0,152.3 L119.0,157.5 L113.0,157.5 Z" fill="#0a0ae8"/>
<path d="M129.8,172.3 L132.8,177.5 L126.8,177.5 Z" fill="#0a0ae8"/>
<path d="M143.6,120.4 L146.6,125.6 L140.6,125.6 Z" fill="#0a0ae8"/>
<path d="M157.3,147.7 L160.3,152.9 L154.3,152.9 Z" fill="#0a0ae8"/>
<path d="M171.1,163.1 L174.1,168.3 L168.1,168.3 Z" fill="#0a0ae8"/>
<path d="M184.9,167.7 L187.9,172.9 L181.9,172.9 Z" fill="#0a0ae8"/>
<path d="M198.6,159.6 L201.6,164.8 L195.6,164.8 Z" fill="#0a0ae8"/>
<path d="M212.4,140.4 L215.4,145.6 L209.4,145.6 Z" fill="#0a0ae8"/>
<path d="M226.2,113.0 L229.2,118.2 L223.2,118.2 Z" fill="#0a0ae8"/>
<path d="M239.9,131.0 L242.9,136.2 L236.9,136.2 Z" fill="#0a0ae8"/>
<path d="M253.7,121.7 L256.7,126.9 L250.7,126.9 Z" fill="#0a0ae8"/>
<path d="M267.4,98.4 L270.4,103.6 L264.4,103.6 Z" fill="#0a0ae8"/>
<path d="M281.2,53.0 L284.2,58.2 L278.2,58.2 Z" fill="#0a0ae8"/>
<path d="M295.0,48.3 L298.0,53.5 L292.0,53.5 Z" fill="#0a0ae8"/>
<path d="M308.7,65.2 L311.7,70.4 L305.7,70.4 Z" fill="#0a0ae8"/>
<path d="M322.5,99.2 L325.5,104.4 L319.5,104.4 Z" fill="#0a0ae8"/>
<path d="M336.2,152.6 L339.2,157.8 L333.2,157.8 Z" fill="#0a0ae8"/>
<path d="M350.0,189.9 L353.0,195.1 L347.0,195.1 Z" fill="#0a0ae8"/>
<path d="M363.8,200.9 L366.8,206.1 L360.8,206.1 Z" fill="#0a0ae8"/>
<path d="M377.5,183.6 L380.5,188.8 L374.5,188.8 Z" fill="#0a0ae8"/>
<path d="M391.3,208.0 L394.3,213.2 L388.3,213.2 Z" fill="#0a0ae8"/>
<path d="M61.0,180.6 L64.0,185.8 L58.0,185.8 Z" fill="#0a0ae8"/>
<path d="M74.8,145.9 L77.8,151.1 L71.8,151.1 Z" fill="#0a0ae8"/>
<path d="M88.5,141.1 L91.5,146.3 L85.5,146.3 Z" fill="#0a0ae8"/>
<path d="M102.3,145.3 L105.3,150.5 L99.3,150.5 Z" fill="#0a0ae8"/>
<path d="M116.0,164.3 L119.0,169.5 L113.0,169.5 Z" fill="#0a0ae8"/>
<path d="M129.8,155.0 L132.8,160.2 L126.8,160.2 Z" fill="#0a0ae8"/>
<path d="M143.6,127.2 L146.6,132.4 L140.6,132.4 Z" fill="#0a0ae8"/>
<path d="M157.3,147.7 L160.3,152.9 L154.3,152.9 Z" fill="#0a0ae8"/>
<path d="M171.1,181.6 L174.1,186.8 L168.1,186.8 Z" fill="#0a0ae8"/>
<path d="M184.9,151.0 L187.9,156.2 L181.9,156.2 Z" fill="#0a0ae8"/>
<path d="M198.6,143.0 L201.6,148.2 L195.6,148.2 Z" fill="#0a0ae8"/>
<path d="M212.4,141.1 L215.4,146.3 L209.4,146.3 Z" fill="#0a0ae8"/>
<path d="M226.2,173.8 L229.2,179.0 L223.2,179.0 Z" fill="#0a0ae8"/>
<path d="M239.9,136.3 L242.9,141.5 L236.9,141.5 Z" fill="#0a0ae8"/>
<path d="M253.7,139.6 L256.7,144.8 L250.7,144.8 Z" fill="#0a0ae8"/>
<path d="M267.4,142.3 L270.4,147.5 L264.4,147.5 Z" fill="#0a0ae8"/>
<path d="M281.2,143.0 L284.2,148.2 L278.2,148.2 Z" fill="#0a0ae8"/>
<path d="M295.0,180.7 L298.0,185.9 L292.0,185.9 Z" fill="#0a0ae8"/>
<path d="M308.7,180.6 L311.7,185.8 L305.7,185.8 Z" fill="#0a0ae8"/>
<path d="M322.5,164.1 L325.5,169.3 L319.5,169.3 Z" fill="#0a0ae8"/>
<path d="M336.2,178.7 L339.2,183.9 L333.2,183.9 Z" fill="#0a0ae8"/>
<path d="M350.0,197.3 L353.0,202.5 L347.0,202.5 Z" fill="#0a0ae8"/>
<path d="M363.8,210.4 L366.8,215.6 L360.8,215.6 Z" fill="#0a0ae8"/>
<path d="M377.5,206.5 L380.5,211.7 L374.5,211.7 Z" fill="#0a0ae8"/>
<path d="M391.3,224.6 L394.3,229.8 L388.3,229.8 Z" fill="#0a0ae8"/>
</g>
<path d="M61.0,8.8 H391.3" stroke="#333" stroke-width="1.1"/>
<path d="M61.0,8.8 V253.0 H391.3" stroke="#555" stroke-width="1.1" fill="none"/>
<path d="M391.3,8.8 V253.0" stroke="#ff5050" stroke-width="1.1"/>
<path d="M61.0,8.8 v4.5 M61.0,253.0 v4.5 M74.8,8.8 v2.5 M74.8,253.0 v2.5 M88.5,8.8 v4.5 M88.5,253.0 v4.5 M102.3,8.8 v2.5 M102.3,253.0 v2.5 M116.0,8.8 v4.5 M116.0,253.0 v4.5 M129.8,8.8 v2.5 M129.8,253.0 v2.5 M143.6,8.8 v4.5 M143.6,253.0 v4.5 M157.3,8.8 v2.5 M157.3,253.0 v2.5 M171.1,8.8 v4.5 M171.1,253.0 v4.5 M184.9,8.8 v2.5 M184.9,253.0 v2.5 M198.6,8.8 v4.5 M198.6,253.0 v4.5 M212.4,8.8 v2.5 M212.4,253.0 v2.5 M226.2,8.8 v4.5 M226.2,253.0 v4.5 M239.9,8.8 v2.5 M239.9,253.0 v2.5 M253.7,8.8 v4.5 M253.7,253.0 v4.5 M267.4,8.8 v2.5 M267.4,253.0 v2.5 M281.2,8.8 v4.5 M281.2,253.0 v4.5 M295.0,8.8 v2.5 M295.0,253.0 v2.5 M308.7,8.8 v4.5 M308.7,253.0 v4.5 M322.5,8.8 v2.5 M322.5,253.0 v2.5 M336.2,8.8 v4.5 M336.2,253.0 v4.5 M350.0,8.8 v2.5 M350.0,253.0 v2.5 M363.8,8.8 v4.5 M363.8,253.0 v4.5 M377.5,8.8 v2.5 M377.5,253.0 v2.5 M391.3,8.8 v4.5 M391.3,253.0 v4.5" stroke="#333" stroke-width="1"/>
<path d="M61.0,253.0 h-4.5 M61.0,228.6 h-2.5 M61.0,204.2 h-4.5 M61.0,179.7 h-2.5 M61.0,155.3 h-4.5 M61.0,130.9 h-2.5 M61.0,106.5 h-4.5 M61.0,82.1 h-2.5 M61.0,57.6 h-4.5 M61.0,33.2 h-2.5 M61.0,8.8 h-4.5" stroke="#555" stroke-width="1"/>
<path d="M391.3,253.0 h4.5 M391.3,228.6 h2.5 M391.3,204.2 h4.5 M391.3,179.7 h2.5 M391.3,155.3 h4.5 M391.3,130.9 h2.5 M391.3,106.5 h4.5 M391.3,82.1 h2.5 M391.3,57.6 h4.5 M391.3,33.2 h2.5 M391.3,8.8 h4.5" stroke="#ff5050" stroke-width="1"/>
<g font-family="Liberation Sans, sans-serif" font-size="11.3" fill="#555" text-anchor="end">
<text x="52.0" y="256.6">−20</text>
<text x="52.0" y="207.8">−10</text>
<text x="52.0" y="158.9">0</text>
<text x="52.0" y="110.1">10</text>
<text x="52.0" y="61.2">20</text>
<text x="52.0" y="12.4">30</text>
</g>
<g font-family="Liberation Sans, sans-serif" font-size="11" fill="#ff4040" text-anchor="start">
<text x="400.8" y="256.4">−20</text>
<text x="400.8" y="207.6">−10</text>
<text x="400.8" y="158.7">0</text>
<text x="400.8" y="109.9">10</text>
<text x="400.8" y="61.0">20</text>
<text x="400.8" y="12.2">30</text>
</g>
<g font-family="Liberation Sans, sans-serif" font-size="11" fill="#222" text-anchor="middle">
<text x="61.6" y="269.6">−30</text>
<text x="89.1" y="269.6">−20</text>
<text x="116.6" y="269.6">−10</text>
<text x="143.6" y="269.6">0</text>
<text x="171.1" y="269.6">10</text>
<text x="198.6" y="269.6">20</text>
<text x="226.2" y="269.6">30</text>
<text x="253.7" y="269.6">40</text>
<text x="281.2" y="269.6">50</text>
<text x="308.7" y="269.6">60</text>
<text x="336.2" y="269.6">70</text>
<text x="363.8" y="269.6">80</text>
<text x="391.3" y="269.6">90</text>
</g>
<text x="241.3" y="286.2" font-family="Liberation Sans, sans-serif" font-size="13.5" fill="#222" text-anchor="middle">Theta(Deg)</text>
<text transform="translate(29.5,151.6) rotate(-90)" font-family="Liberation Sans, sans-serif" font-size="12.7" fill="#222" text-anchor="middle">Magnitude(dB)</text>
<rect x="82.5" y="177.5" width="145.5" height="68.0" fill="#fff" stroke="#a0a0a0" stroke-width="1"/>
<path d="M83.5,185.2 H104" stroke="#a0a0a0" stroke-width="0.8"/>
<rect x="91.7" y="182.9" width="4.6" height="4.6" fill="#474747"/>
<g font-family="Liberation Sans, sans-serif" fill="#1e1e1e"><text x="106.9" y="188.2" font-size="9.1" textLength="37.6" lengthAdjust="spacingAndGlyphs">E-plane 0</text><text x="145.0" y="184.8" font-size="5.8">0</text><text x="152.9" y="188.2" font-size="9.1" textLength="59.4" lengthAdjust="spacingAndGlyphs">Co-Polarization</text></g>
<path d="M83.5,196.3 H104" stroke="#ff8a8a" stroke-width="0.8"/>
<circle cx="94.0" cy="196.3" r="2.75" fill="#f83a3a"/>
<g font-family="Liberation Sans, sans-serif" fill="#1e1e1e"><text x="106.9" y="199.3" font-size="9.1" textLength="42.2" lengthAdjust="spacingAndGlyphs">E-plane 30</text><text x="149.4" y="195.9" font-size="5.8">0</text><text x="155.1" y="199.3" font-size="9.1" textLength="59.4" lengthAdjust="spacingAndGlyphs">Co-Polarization</text></g>
<path d="M83.5,207.3 H104" stroke="#8080ff" stroke-width="0.8"/>
<path d="M94.0,204.3 L97.1,209.5 L90.9,209.5 Z" fill="#0a0ae8"/>
<g font-family="Liberation Sans, sans-serif" fill="#1e1e1e"><text x="106.9" y="210.3" font-size="9.1" textLength="42.2" lengthAdjust="spacingAndGlyphs">E-plane 60</text><text x="149.4" y="206.9" font-size="5.8">0</text><text x="155.1" y="210.3" font-size="9.1" textLength="59.4" lengthAdjust="spacingAndGlyphs">Co-Polarization</text></g>
<path d="M83.5,218.4 H104" stroke="#a0a0a0" stroke-width="0.8" stroke-dasharray="1.2,1.6"/>
<rect x="91.7" y="216.1" width="4.6" height="4.6" fill="#474747"/>
<g font-family="Liberation Sans, sans-serif" fill="#1e1e1e"><text x="106.9" y="221.4" font-size="9.1" textLength="37.6" lengthAdjust="spacingAndGlyphs">E-plane 0</text><text x="145.0" y="218.0" font-size="5.8">0</text><text x="152.9" y="221.4" font-size="9.1" textLength="71.5" lengthAdjust="spacingAndGlyphs">Cross-Polarization</text></g>
<path d="M83.5,229.4 H104" stroke="#8080ff" stroke-width="0.8" stroke-dasharray="1.2,1.6"/>
<path d="M94.0,226.4 L97.1,231.6 L90.9,231.6 Z" fill="#0a0ae8"/>
<g font-family="Liberation Sans, sans-serif" fill="#1e1e1e"><text x="106.9" y="232.4" font-size="9.1" textLength="42.2" lengthAdjust="spacingAndGlyphs">E-plane 30</text><text x="149.4" y="229.0" font-size="5.8">0</text><text x="155.1" y="232.4" font-size="9.1" textLength="71.5" lengthAdjust="spacingAndGlyphs">Cross-Polarization</text></g>
<path d="M83.5,240.5 H104" stroke="#ff8a8a" stroke-width="0.8" stroke-dasharray="1.2,1.6"/>
<circle cx="94.0" cy="240.5" r="2.75" fill="#f83a3a"/>
<g font-family="Liberation Sans, sans-serif" fill="#1e1e1e"><text x="106.9" y="243.5" font-size="9.1" textLength="42.2" lengthAdjust="spacingAndGlyphs">E-plane 60</text><text x="149.4" y="240.1" font-size="5.8">0</text><text x="155.1" y="243.5" font-size="9.1" textLength="71.5" lengthAdjust="spacingAndGlyphs">Cross-Polarization</text></g>
<rect x="23.50" y="301.50" width="109.90" height="89.50" fill="#000096"/>
<path fill="#9a0000" d="M34.49 301.50H61.97V305.98H34.49ZM94.94 301.50H122.41V305.98H94.94ZM29.00 305.98H50.98V310.45H29.00ZM105.92 305.98H127.91V310.45H105.92ZM23.50 310.45H39.98V314.93H23.50ZM116.92 310.45H133.40V314.93H116.92ZM23.50 314.93H34.49V319.40H23.50ZM61.97 314.93H94.94V319.40H61.97ZM122.41 314.93H133.40V319.40H122.41ZM23.50 319.40H34.49V323.88H23.50ZM50.98 319.40H105.92V323.88H50.98ZM122.41 319.40H133.40V323.88H122.41ZM23.50 323.88H29.00V328.35H23.50ZM45.48 323.88H111.42V328.35H45.48ZM127.91 323.88H133.40V328.35H127.91ZM23.50 328.35H29.00V332.82H23.50ZM45.48 328.35H111.42V332.82H45.48ZM127.91 328.35H133.40V332.82H127.91ZM39.98 332.82H67.46V337.30H39.98ZM89.44 332.82H116.92V337.30H89.44ZM39.98 337.30H61.97V341.77H39.98ZM94.94 337.30H116.92V341.77H94.94ZM39.98 341.77H61.97V346.25H39.98ZM94.94 341.77H116.92V346.25H94.94ZM39.98 346.25H61.97V350.73H39.98ZM94.94 346.25H116.92V350.73H94.94ZM39.98 350.73H61.97V355.20H39.98ZM94.94 350.73H116.92V355.20H94.94ZM39.98 355.20H67.46V359.68H39.98ZM89.44 355.20H116.92V359.68H89.44ZM23.50 359.68H29.00V364.15H23.50ZM45.48 359.68H111.42V364.15H45.48ZM127.91 359.68H133.40V364.15H127.91ZM23.50 364.15H29.00V368.62H23.50ZM45.48 364.15H111.42V368.62H45.48ZM127.91 364.15H133.40V368.62H127.91ZM23.50 368.62H34.49V373.10H23.50ZM50.98 368.62H105.92V373.10H50.98ZM122.41 368.62H133.40V373.10H122.41ZM23.50 373.10H34.49V377.57H23.50ZM61.97 373.10H94.94V377.57H61.97ZM122.41 373.10H133.40V377.57H122.41ZM23.50 377.57H39.98V382.05H23.50ZM116.92 377.57H133.40V382.05H116.92ZM29.00 382.05H50.98V386.52H29.00ZM105.92 382.05H127.91V386.52H105.92ZM34.49 386.52H61.97V391.00H34.49ZM94.94 386.52H122.41V391.00H94.94Z"/>
<rect x="166.20" y="301.40" width="100.70" height="89.10" fill="#000096"/>
<path fill="#9a0000" d="M168.60 301.40H178.98V305.85H168.60ZM184.17 301.40H194.55V305.85H184.17ZM199.74 301.40H215.31V305.85H199.74ZM225.69 301.40H241.26V305.85H225.69ZM168.60 305.85H173.79V310.31H168.60ZM184.17 305.85H189.36V310.31H184.17ZM199.74 305.85H210.12V310.31H199.74ZM220.50 305.85H230.88V310.31H220.50ZM168.60 310.31H173.79V314.76H168.60ZM178.98 310.31H189.36V314.76H178.98ZM194.55 310.31H204.93V314.76H194.55ZM215.31 310.31H225.69V314.76H215.31ZM251.64 310.31H266.90V314.76H251.64ZM166.20 314.76H168.60V319.22H166.20ZM178.98 314.76H184.17V319.22H178.98ZM194.55 314.76H199.74V319.22H194.55ZM210.12 314.76H225.69V319.22H210.12ZM241.26 314.76H266.90V319.22H241.26ZM166.20 319.22H168.60V323.67H166.20ZM173.79 319.22H178.98V323.67H173.79ZM189.36 319.22H194.55V323.67H189.36ZM210.12 319.22H220.50V323.67H210.12ZM230.88 319.22H266.90V323.67H230.88ZM166.20 323.67H168.60V328.13H166.20ZM173.79 323.67H178.98V328.13H173.79ZM189.36 323.67H194.55V328.13H189.36ZM204.93 323.67H215.31V328.13H204.93ZM230.88 323.67H266.90V328.13H230.88ZM166.20 328.13H168.60V332.58H166.20ZM173.79 328.13H178.98V332.58H173.79ZM189.36 328.13H194.55V332.58H189.36ZM204.93 328.13H215.31V332.58H204.93ZM225.69 328.13H266.90V332.58H225.69ZM173.79 332.58H178.98V337.04H173.79ZM184.17 332.58H194.55V337.04H184.17ZM199.74 332.58H210.12V337.04H199.74ZM225.69 332.58H246.45V337.04H225.69ZM173.79 337.04H178.98V341.50H173.79ZM184.17 337.04H194.55V341.50H184.17ZM199.74 337.04H210.12V341.50H199.74ZM220.50 337.04H241.26V341.50H220.50ZM173.79 341.50H178.98V345.95H173.79ZM184.17 341.50H194.55V345.95H184.17ZM199.74 341.50H210.12V345.95H199.74ZM220.50 341.50H241.26V345.95H220.50ZM173.79 345.95H178.98V350.40H173.79ZM184.17 345.95H194.55V350.40H184.17ZM199.74 345.95H210.12V350.40H199.74ZM220.50 345.95H241.26V350.40H220.50ZM173.79 350.40H178.98V354.86H173.79ZM184.17 350.40H194.55V354.86H184.17ZM199.74 350.40H210.12V354.86H199.74ZM220.50 350.40H241.26V354.86H220.50ZM173.79 354.86H178.98V359.31H173.79ZM184.17 354.86H194.55V359.31H184.17ZM199.74 354.86H210.12V359.31H199.74ZM225.69 354.86H246.45V359.31H225.69ZM166.20 359.31H168.60V363.77H166.20ZM173.79 359.31H178.98V363.77H173.79ZM189.36 359.31H194.55V363.77H189.36ZM204.93 359.31H215.31V363.77H204.93ZM225.69 359.31H266.90V363.77H225.69ZM166.20 363.77H168.60V368.22H166.20ZM173.79 363.77H178.98V368.22H173.79ZM189.36 363.77H194.55V368.22H189.36ZM204.93 363.77H215.31V368.22H204.93ZM230.88 363.77H266.90V368.22H230.88ZM166.20 368.22H168.60V372.68H166.20ZM173.79 368.22H178.98V372.68H173.79ZM189.36 368.22H194.55V372.68H189.36ZM210.12 368.22H220.50V372.68H210.12ZM230.88 368.22H266.90V372.68H230.88ZM166.20 372.68H168.60V377.13H166.20ZM178.98 372.68H184.17V377.13H178.98ZM194.55 372.68H199.74V377.13H194.55ZM210.12 372.68H225.69V377.13H210.12ZM241.26 372.68H266.90V377.13H241.26ZM168.60 377.13H173.79V381.59H168.60ZM178.98 377.13H189.36V381.59H178.98ZM194.55 377.13H204.93V381.59H194.55ZM215.31 377.13H225.69V381.59H215.31ZM251.64 377.13H266.90V381.59H251.64ZM168.60 381.59H173.79V386.04H168.60ZM184.17 381.59H189.36V386.04H184.17ZM199.74 381.59H210.12V386.04H199.74ZM220.50 381.59H230.88V386.04H220.50ZM168.60 386.04H178.98V390.50H168.60ZM184.17 386.04H194.55V390.50H184.17ZM199.74 386.04H215.31V390.50H199.74ZM225.69 386.04H241.26V390.50H225.69Z"/>
<rect x="307.20" y="301.70" width="100.80" height="88.50" fill="#000096"/>
<path fill="#9a0000" d="M307.20 301.70H309.40V306.12H307.20ZM314.55 301.70H319.70V306.12H314.55ZM324.85 301.70H330.00V306.12H324.85ZM335.15 301.70H340.30V306.12H335.15ZM345.45 301.70H355.75V306.12H345.45ZM360.90 301.70H371.20V306.12H360.90ZM376.35 301.70H386.65V306.12H376.35ZM402.10 301.70H408.00V306.12H402.10ZM307.20 306.12H309.40V310.55H307.20ZM314.55 306.12H319.70V310.55H314.55ZM324.85 306.12H330.00V310.55H324.85ZM335.15 306.12H340.30V310.55H335.15ZM345.45 306.12H350.60V310.55H345.45ZM360.90 306.12H366.05V310.55H360.90ZM376.35 306.12H381.50V310.55H376.35ZM396.95 306.12H408.00V310.55H396.95ZM307.20 310.55H314.55V314.97H307.20ZM319.70 310.55H324.85V314.97H319.70ZM330.00 310.55H335.15V314.97H330.00ZM345.45 310.55H350.60V314.97H345.45ZM355.75 310.55H360.90V314.97H355.75ZM371.20 310.55H381.50V314.97H371.20ZM391.80 310.55H402.10V314.97H391.80ZM309.40 314.97H314.55V319.40H309.40ZM319.70 314.97H324.85V319.40H319.70ZM330.00 314.97H335.15V319.40H330.00ZM340.30 314.97H345.45V319.40H340.30ZM355.75 314.97H360.90V319.40H355.75ZM371.20 314.97H376.35V319.40H371.20ZM386.65 314.97H402.10V319.40H386.65ZM309.40 319.40H314.55V323.82H309.40ZM319.70 319.40H324.85V323.82H319.70ZM330.00 319.40H335.15V323.82H330.00ZM340.30 319.40H345.45V323.82H340.30ZM350.60 319.40H360.90V323.82H350.60ZM366.05 319.40H376.35V323.82H366.05ZM386.65 319.40H396.95V323.82H386.65ZM307.20 323.82H314.55V328.25H307.20ZM324.85 323.82H335.15V328.25H324.85ZM340.30 323.82H345.45V328.25H340.30ZM350.60 323.82H355.75V328.25H350.60ZM366.05 323.82H371.20V328.25H366.05ZM381.50 323.82H391.80V328.25H381.50ZM307.20 328.25H309.40V332.68H307.20ZM314.55 328.25H319.70V332.68H314.55ZM324.85 328.25H330.00V332.68H324.85ZM335.15 328.25H345.45V332.68H335.15ZM350.60 328.25H355.75V332.68H350.60ZM360.90 328.25H371.20V332.68H360.90ZM381.50 328.25H391.80V332.68H381.50ZM307.20 332.68H309.40V337.10H307.20ZM314.55 332.68H319.70V337.10H314.55ZM324.85 332.68H330.00V337.10H324.85ZM335.15 332.68H340.30V337.10H335.15ZM350.60 332.68H355.75V337.10H350.60ZM360.90 332.68H371.20V337.10H360.90ZM381.50 332.68H391.80V337.10H381.50ZM402.10 332.68H408.00V337.10H402.10ZM307.20 337.10H309.40V341.52H307.20ZM314.55 337.10H319.70V341.52H314.55ZM324.85 337.10H330.00V341.52H324.85ZM335.15 337.10H340.30V341.52H335.15ZM345.45 337.10H355.75V341.52H345.45ZM360.90 337.10H371.20V341.52H360.90ZM376.35 337.10H386.65V341.52H376.35ZM402.10 337.10H408.00V341.52H402.10ZM307.20 341.52H309.40V345.95H307.20ZM314.55 341.52H319.70V345.95H314.55ZM324.85 341.52H330.00V345.95H324.85ZM335.15 341.52H340.30V345.95H335.15ZM345.45 341.52H355.75V345.95H345.45ZM360.90 341.52H371.20V345.95H360.90ZM376.35 341.52H386.65V345.95H376.35ZM402.10 341.52H408.00V345.95H402.10ZM307.20 345.95H309.40V350.38H307.20ZM314.55 345.95H319.70V350.38H314.55ZM324.85 345.95H330.00V350.38H324.85ZM335.15 345.95H340.30V350.38H335.15ZM345.45 345.95H355.75V350.38H345.45ZM360.90 345.95H371.20V350.38H360.90ZM376.35 345.95H386.65V350.38H376.35ZM402.10 345.95H408.00V350.38H402.10ZM307.20 350.38H309.40V354.80H307.20ZM314.55 350.38H319.70V354.80H314.55ZM324.85 350.38H330.00V354.80H324.85ZM335.15 350.38H340.30V354.80H335.15ZM345.45 350.38H355.75V354.80H345.45ZM360.90 350.38H371.20V354.80H360.90ZM376.35 350.38H386.65V354.80H376.35ZM402.10 350.38H408.00V354.80H402.10ZM307.20 354.80H309.40V359.22H307.20ZM314.55 354.80H319.70V359.22H314.55ZM324.85 354.80H330.00V359.22H324.85ZM335.15 354.80H340.30V359.22H335.15ZM350.60 354.80H355.75V359.22H350.60ZM360.90 354.80H371.20V359.22H360.90ZM381.50 354.80H391.80V359.22H381.50ZM402.10 354.80H408.00V359.22H402.10ZM307.20 359.22H309.40V363.65H307.20ZM314.55 359.22H319.70V363.65H314.55ZM324.85 359.22H330.00V363.65H324.85ZM335.15 359.22H345.45V363.65H335.15ZM350.60 359.22H355.75V363.65H350.60ZM360.90 359.22H371.20V363.65H360.90ZM381.50 359.22H391.80V363.65H381.50ZM307.20 363.65H314.55V368.07H307.20ZM324.85 363.65H335.15V368.07H324.85ZM340.30 363.65H345.45V368.07H340.30ZM350.60 363.65H355.75V368.07H350.60ZM366.05 363.65H371.20V368.07H366.05ZM381.50 363.65H391.80V368.07H381.50ZM309.40 368.07H314.55V372.50H309.40ZM319.70 368.07H324.85V372.50H319.70ZM330.00 368.07H335.15V372.50H330.00ZM340.30 368.07H345.45V372.50H340.30ZM350.60 368.07H360.90V372.50H350.60ZM366.05 368.07H376.35V372.50H366.05ZM386.65 368.07H396.95V372.50H386.65ZM309.40 372.50H314.55V376.92H309.40ZM319.70 372.50H324.85V376.92H319.70ZM330.00 372.50H335.15V376.92H330.00ZM340.30 372.50H345.45V376.92H340.30ZM355.75 372.50H360.90V376.92H355.75ZM371.20 372.50H376.35V376.92H371.20ZM386.65 372.50H402.10V376.92H386.65ZM307.20 376.92H314.55V381.35H307.20ZM319.70 376.92H324.85V381.35H319.70ZM330.00 376.92H335.15V381.35H330.00ZM345.45 376.92H350.60V381.35H345.45ZM355.75 376.92H360.90V381.35H355.75ZM371.20 376.92H381.50V381.35H371.20ZM391.80 376.92H402.10V381.35H391.80ZM307.20 381.35H309.40V385.77H307.20ZM314.55 381.35H319.70V385.77H314.55ZM324.85 381.35H330.00V385.77H324.85ZM335.15 381.35H340.30V385.77H335.15ZM345.45 381.35H350.60V385.77H345.45ZM360.90 381.35H366.05V385.77H360.90ZM376.35 381.35H381.50V385.77H376.35ZM396.95 381.35H408.00V385.77H396.95ZM307.20 385.77H309.40V390.20H307.20ZM314.55 385.77H319.70V390.20H314.55ZM324.85 385.77H330.00V390.20H324.85ZM335.15 385.77H340.30V390.20H335.15ZM345.45 385.77H355.75V390.20H345.45ZM360.90 385.77H371.20V390.20H360.90ZM376.35 385.77H386.65V390.20H376.35ZM402.10 385.77H408.00V390.20H402.10Z"/>
<rect x="137.2" y="301.3" width="7.6" height="90.7" fill="url(#jet)"/>
<rect x="278.1" y="301.1" width="7.6" height="90.3" fill="url(#jet)"/>
<rect x="419.1" y="301.3" width="7.6" height="90.7" fill="url(#jet)"/>
<rect x="126.0" y="414.8" width="7.8" height="88.2" fill="url(#jet)"/>
<rect x="277.0" y="414.8" width="7.8" height="88.2" fill="url(#jet)"/>
<rect x="432.0" y="414.8" width="7.8" height="88.2" fill="url(#jet)"/>
<g><radialGradient id="fg1" cx="0.5" cy="0.5" r="0.5"><stop offset="0" stop-color="#900000"/><stop offset="0.09" stop-color="#ff1000"/><stop offset="0.13" stop-color="#ffe000"/><stop offset="0.18" stop-color="#ffa800"/><stop offset="0.45" stop-color="#ff9800"/><stop offset="0.5" stop-color="#ffd800"/><stop offset="0.56" stop-color="#ffa800"/><stop offset="0.65" stop-color="#ffa800"/><stop offset="0.7" stop-color="#e0ff10"/><stop offset="0.75" stop-color="#40ffc0"/><stop offset="0.82" stop-color="#10e8ff"/><stop offset="0.93" stop-color="#10d0ff"/><stop offset="0.97" stop-color="#0040ff"/><stop offset="1" stop-color="#00a0ff"/></radialGradient><radialGradient id="fg2" cx="0.5" cy="0.5" r="0.5"><stop offset="0" stop-color="#ffa000"/><stop offset="0.6" stop-color="#ffb000"/><stop offset="0.8" stop-color="#f0ff00"/><stop offset="1" stop-color="#80ff80" stop-opacity="0"/></radialGradient><radialGradient id="fg3" cx="0.5" cy="0.5" r="0.5"><stop offset="0" stop-color="#800000"/><stop offset="0.4" stop-color="#ff0000"/><stop offset="0.7" stop-color="#ff9000"/><stop offset="1" stop-color="#ffff00" stop-opacity="0"/></radialGradient><radialGradient id="fgb" cx="0.5" cy="0.5" r="0.5"><stop offset="0" stop-color="#b0ff50"/><stop offset="0.7" stop-color="#60ffa0"/><stop offset="0.92" stop-color="#10e0ff"/><stop offset="1" stop-color="#0060ff"/></radialGradient><ellipse cx="66.3" cy="458.9" rx="53.6" ry="44" fill="url(#fg1)"/><ellipse cx="213.8" cy="458.9" rx="51.1" ry="44" fill="url(#fgb)"/><ellipse cx="194" cy="459" rx="34" ry="38" fill="url(#fg2)"/><rect x="233" y="452.5" width="14" height="12" rx="3" fill="#a00000"/><ellipse cx="368.8" cy="458.9" rx="51.1" ry="44" fill="url(#fgb)"/><ellipse cx="350" cy="459" rx="36" ry="39" fill="url(#fg2)"/><circle cx="412" cy="459" r="9" fill="url(#fg3)"/></g>
<path d="M12.3 423.4H120.3M12.3 432.3H120.3M12.3 441.1H120.3M12.3 450.0H120.3M12.3 458.9H120.3M12.3 467.8H120.3M12.3 476.7H120.3M12.3 485.5H120.3M12.3 494.4H120.3M39.3 414.5V503.3M66.3 414.5V503.3M93.3 414.5V503.3" stroke="#e4e4e4" stroke-width="0.5" stroke-dasharray="1,1" fill="none"/>
<path d="M12.3 414.5V503.3H120.3" stroke="#9a9a9a" stroke-width="0.6" fill="none"/>
<rect x="12.3" y="414.5" width="108.0" height="88.8" fill="none" stroke="#d8d8d8" stroke-width="0.6"/>
<path d="M162.3 423.4H265.3M162.3 432.3H265.3M162.3 441.1H265.3M162.3 450.0H265.3M162.3 458.9H265.3M162.3 467.8H265.3M162.3 476.7H265.3M162.3 485.5H265.3M162.3 494.4H265.3M188.1 414.5V503.3M213.8 414.5V503.3M239.6 414.5V503.3" stroke="#e4e4e4" stroke-width="0.5" stroke-dasharray="1,1" fill="none"/>
<path d="M162.3 414.5V503.3H265.3" stroke="#9a9a9a" stroke-width="0.6" fill="none"/>
<rect x="162.3" y="414.5" width="103.0" height="88.8" fill="none" stroke="#d8d8d8" stroke-width="0.6"/>
<path d="M317.3 423.4H420.3M317.3 432.3H420.3M317.3 441.1H420.3M317.3 450.0H420.3M317.3 458.9H420.3M317.3 467.8H420.3M317.3 476.7H420.3M317.3 485.5H420.3M317.3 494.4H420.3M343.1 414.5V503.3M368.8 414.5V503.3M394.6 414.5V503.3" stroke="#e4e4e4" stroke-width="0.5" stroke-dasharray="1,1" fill="none"/>
<path d="M317.3 414.5V503.3H420.3" stroke="#9a9a9a" stroke-width="0.6" fill="none"/>
<rect x="317.3" y="414.5" width="103.0" height="88.8" fill="none" stroke="#d8d8d8" stroke-width="0.6"/>
<text x="66.3" y="413.4" font-family="Liberation Sans, sans-serif" font-size="5" font-weight="bold" fill="#222" text-anchor="middle" textLength="27" lengthAdjust="spacingAndGlyphs">Realized gain</text>
<text x="213.8" y="413.4" font-family="Liberation Sans, sans-serif" font-size="5" font-weight="bold" fill="#222" text-anchor="middle" textLength="27" lengthAdjust="spacingAndGlyphs">Realized gain</text>
<text x="368.8" y="413.4" font-family="Liberation Sans, sans-serif" font-size="5" font-weight="bold" fill="#222" text-anchor="middle" textLength="27" lengthAdjust="spacingAndGlyphs">Realized gain</text>
<g font-family="Liberation Sans, sans-serif"><text x="21.8" y="309.8" font-size="4.4" fill="#484848" text-anchor="end">2</text><text x="31.7" y="397.2" font-size="4.4" fill="#484848" text-anchor="middle">2</text><text x="21.8" y="318.8" font-size="4.4" fill="#484848" text-anchor="end">4</text><text x="42.7" y="397.2" font-size="4.4" fill="#484848" text-anchor="middle">4</text><text x="21.8" y="327.7" font-size="4.4" fill="#484848" text-anchor="end">6</text><text x="53.7" y="397.2" font-size="4.4" fill="#484848" text-anchor="middle">6</text><text x="21.8" y="336.7" font-size="4.4" fill="#484848" text-anchor="end">8</text><text x="64.7" y="397.2" font-size="4.4" fill="#484848" text-anchor="middle">8</text><text x="21.8" y="345.6" font-size="4.4" fill="#484848" text-anchor="end">10</text><text x="75.7" y="397.2" font-size="4.4" fill="#484848" text-anchor="middle">10</text><text x="21.8" y="354.6" font-size="4.4" fill="#484848" text-anchor="end">12</text><text x="86.7" y="397.2" font-size="4.4" fill="#484848" text-anchor="middle">12</text><text x="21.8" y="363.5" font-size="4.4" fill="#484848" text-anchor="end">14</text><text x="97.7" y="397.2" font-size="4.4" fill="#484848" text-anchor="middle">14</text><text x="21.8" y="372.5" font-size="4.4" fill="#484848" text-anchor="end">16</text><text x="108.7" y="397.2" font-size="4.4" fill="#484848" text-anchor="middle">16</text><text x="21.8" y="381.4" font-size="4.4" fill="#484848" text-anchor="end">18</text><text x="119.7" y="397.2" font-size="4.4" fill="#484848" text-anchor="middle">18</text><text x="21.8" y="390.4" font-size="4.4" fill="#484848" text-anchor="end">20</text><text x="130.7" y="397.2" font-size="4.4" fill="#484848" text-anchor="middle">20</text><text x="167.7" y="397.2" font-size="4.4" fill="#484848" text-anchor="middle">0</text><text x="192.5" y="397.2" font-size="4.4" fill="#484848" text-anchor="middle">15</text><text x="218.0" y="397.2" font-size="4.4" fill="#484848" text-anchor="middle">10</text><text x="243.2" y="397.2" font-size="4.4" fill="#484848" text-anchor="middle">5</text><text x="308.2" y="397.2" font-size="4.4" fill="#484848" text-anchor="middle">0</text><text x="332.5" y="397.2" font-size="4.4" fill="#484848" text-anchor="middle">15</text><text x="358.0" y="397.2" font-size="4.4" fill="#484848" text-anchor="middle">10</text><text x="383.0" y="397.2" font-size="4.4" fill="#484848" text-anchor="middle">5</text><text x="147.3" y="302.9" font-size="4.4" fill="#484848" text-anchor="start">180</text><text x="147.3" y="313.0" font-size="4.4" fill="#484848" text-anchor="start">160</text><text x="147.3" y="323.0" font-size="4.4" fill="#484848" text-anchor="start">140</text><text x="147.3" y="333.1" font-size="4.4" fill="#484848" text-anchor="start">120</text><text x="147.3" y="343.2" font-size="4.4" fill="#484848" text-anchor="start">100</text><text x="147.3" y="353.3" font-size="4.4" fill="#484848" text-anchor="start">80</text><text x="147.3" y="363.3" font-size="4.4" fill="#484848" text-anchor="start">60</text><text x="147.3" y="373.4" font-size="4.4" fill="#484848" text-anchor="start">40</text><text x="147.3" y="383.5" font-size="4.4" fill="#484848" text-anchor="start">20</text><text x="147.3" y="393.5" font-size="4.4" fill="#484848" text-anchor="start">0</text><text x="287.6" y="302.9" font-size="4.4" fill="#484848" text-anchor="start">180</text><text x="287.6" y="313.0" font-size="4.4" fill="#484848" text-anchor="start">160</text><text x="287.6" y="323.0" font-size="4.4" fill="#484848" text-anchor="start">140</text><text x="287.6" y="333.1" font-size="4.4" fill="#484848" text-anchor="start">120</text><text x="287.6" y="343.2" font-size="4.4" fill="#484848" text-anchor="start">100</text><text x="287.6" y="353.3" font-size="4.4" fill="#484848" text-anchor="start">80</text><text x="287.6" y="363.3" font-size="4.4" fill="#484848" text-anchor="start">60</text><text x="287.6" y="373.4" font-size="4.4" fill="#484848" text-anchor="start">40</text><text x="287.6" y="383.5" font-size="4.4" fill="#484848" text-anchor="start">20</text><text x="287.6" y="393.5" font-size="4.4" fill="#484848" text-anchor="start">0</text><text x="428.5" y="302.9" font-size="4.4" fill="#484848" text-anchor="start">180</text><text x="428.5" y="313.0" font-size="4.4" fill="#484848" text-anchor="start">160</text><text x="428.5" y="323.0" font-size="4.4" fill="#484848" text-anchor="start">140</text><text x="428.5" y="333.1" font-size="4.4" fill="#484848" text-anchor="start">120</text><text x="428.5" y="343.2" font-size="4.4" fill="#484848" text-anchor="start">100</text><text x="428.5" y="353.3" font-size="4.4" fill="#484848" text-anchor="start">80</text><text x="428.5" y="363.3" font-size="4.4" fill="#484848" text-anchor="start">60</text><text x="428.5" y="373.4" font-size="4.4" fill="#484848" text-anchor="start">40</text><text x="428.5" y="383.5" font-size="4.4" fill="#484848" text-anchor="start">20</text><text x="428.5" y="393.5" font-size="4.4" fill="#484848" text-anchor="start">0</text><text x="10.6" y="416.0" font-size="4.1" fill="#484848" text-anchor="end">1</text><text x="10.6" y="424.9" font-size="4.1" fill="#484848" text-anchor="end">0.8</text><text x="10.6" y="433.8" font-size="4.1" fill="#484848" text-anchor="end">0.6</text><text x="10.6" y="442.6" font-size="4.1" fill="#484848" text-anchor="end">0.4</text><text x="10.6" y="451.5" font-size="4.1" fill="#484848" text-anchor="end">0.2</text><text x="10.6" y="460.4" font-size="4.1" fill="#484848" text-anchor="end">0</text><text x="10.6" y="469.3" font-size="4.1" fill="#484848" text-anchor="end">-0.2</text><text x="10.6" y="478.2" font-size="4.1" fill="#484848" text-anchor="end">-0.4</text><text x="10.6" y="487.0" font-size="4.1" fill="#484848" text-anchor="end">-0.6</text><text x="10.6" y="495.9" font-size="4.1" fill="#484848" text-anchor="end">-0.8</text><text x="10.6" y="504.8" font-size="4.1" fill="#484848" text-anchor="end">-1</text><text x="12.3" y="509.2" font-size="4.1" fill="#484848" text-anchor="middle">-1</text><text x="39.3" y="509.2" font-size="4.1" fill="#484848" text-anchor="middle">-0.5</text><text x="66.3" y="509.2" font-size="4.1" fill="#484848" text-anchor="middle">0</text><text x="93.3" y="509.2" font-size="4.1" fill="#484848" text-anchor="middle">0.5</text><text x="120.3" y="509.2" font-size="4.1" fill="#484848" text-anchor="middle">1</text><text x="160.3" y="416.0" font-size="4.1" fill="#484848" text-anchor="end">-1</text><text x="160.3" y="424.9" font-size="4.1" fill="#484848" text-anchor="end">-0.8</text><text x="160.3" y="433.8" font-size="4.1" fill="#484848" text-anchor="end">-0.6</text><text x="160.3" y="442.6" font-size="4.1" fill="#484848" text-anchor="end">-0.4</text><text x="160.3" y="451.5" font-size="4.1" fill="#484848" text-anchor="end">-0.2</text><text x="160.3" y="460.4" font-size="4.1" fill="#484848" text-anchor="end">0</text><text x="160.3" y="469.3" font-size="4.1" fill="#484848" text-anchor="end">0.2</text><text x="160.3" y="478.2" font-size="4.1" fill="#484848" text-anchor="end">0.4</text><text x="160.3" y="487.0" font-size="4.1" fill="#484848" text-anchor="end">0.6</text><text x="160.3" y="495.9" font-size="4.1" fill="#484848" text-anchor="end">0.8</text><text x="160.3" y="504.8" font-size="4.1" fill="#484848" text-anchor="end">1</text><text x="162.3" y="509.2" font-size="4.1" fill="#484848" text-anchor="middle">1</text><text x="188.1" y="509.2" font-size="4.1" fill="#484848" text-anchor="middle">0.5</text><text x="213.8" y="509.2" font-size="4.1" fill="#484848" text-anchor="middle">0</text><text x="239.6" y="509.2" font-size="4.1" fill="#484848" text-anchor="middle">-0.5</text><text x="265.3" y="509.2" font-size="4.1" fill="#484848" text-anchor="middle">-1</text><text x="315.3" y="416.0" font-size="4.1" fill="#484848" text-anchor="end">-1</text><text x="315.3" y="424.9" font-size="4.1" fill="#484848" text-anchor="end">-0.8</text><text x="315.3" y="433.8" font-size="4.1" fill="#484848" text-anchor="end">-0.6</text><text x="315.3" y="442.6" font-size="4.1" fill="#484848" text-anchor="end">-0.4</text><text x="315.3" y="451.5" font-size="4.1" fill="#484848" text-anchor="end">-0.2</text><text x="315.3" y="460.4" font-size="4.1" fill="#484848" text-anchor="end">0</text><text x="315.3" y="469.3" font-size="4.1" fill="#484848" text-anchor="end">0.2</text><text x="315.3" y="478.2" font-size="4.1" fill="#484848" text-anchor="end">0.4</text><text x="315.3" y="487.0" font-size="4.1" fill="#484848" text-anchor="end">0.6</text><text x="315.3" y="495.9" font-size="4.1" fill="#484848" text-anchor="end">0.8</text><text x="315.3" y="504.8" font-size="4.1" fill="#484848" text-anchor="end">1</text><text x="317.3" y="509.2" font-size="4.1" fill="#484848" text-anchor="middle">1</text><text x="343.1" y="509.2" font-size="4.1" fill="#484848" text-anchor="middle">0.5</text><text x="368.8" y="509.2" font-size="4.1" fill="#484848" text-anchor="middle">0</text><text x="394.6" y="509.2" font-size="4.1" fill="#484848" text-anchor="middle">-0.5</text><text x="420.3" y="509.2" font-size="4.1" fill="#484848" text-anchor="middle">-1</text><text x="136.0" y="417.3" font-size="4.4" fill="#484848" text-anchor="start">30</text><text x="136.0" y="432.1" font-size="4.4" fill="#484848" text-anchor="start">20</text><text x="136.0" y="446.8" font-size="4.4" fill="#484848" text-anchor="start">10</text><text x="136.0" y="461.6" font-size="4.4" fill="#484848" text-anchor="start">0</text><text x="136.0" y="476.3" font-size="4.4" fill="#484848" text-anchor="start">−10</text><text x="136.0" y="491.1" font-size="4.4" fill="#484848" text-anchor="start">−20</text><text x="287.0" y="417.3" font-size="4.4" fill="#484848" text-anchor="start">30</text><text x="287.0" y="432.1" font-size="4.4" fill="#484848" text-anchor="start">20</text><text x="287.0" y="446.8" font-size="4.4" fill="#484848" text-anchor="start">10</text><text x="287.0" y="461.6" font-size="4.4" fill="#484848" text-anchor="start">0</text><text x="287.0" y="476.3" font-size="4.4" fill="#484848" text-anchor="start">−10</text><text x="287.0" y="491.1" font-size="4.4" fill="#484848" text-anchor="start">−20</text><text x="442.0" y="416.4" font-size="4.4" fill="#484848" text-anchor="start">0</text><text x="442.0" y="431.1" font-size="4.4" fill="#484848" text-anchor="start">−10</text><text x="442.0" y="445.8" font-size="4.4" fill="#484848" text-anchor="start">−20</text><text x="442.0" y="460.5" font-size="4.4" fill="#484848" text-anchor="start">−30</text><text x="442.0" y="475.2" font-size="4.4" fill="#484848" text-anchor="start">−40</text><text x="442.0" y="489.9" font-size="4.4" fill="#484848" text-anchor="start">−50</text><text x="442.0" y="504.6" font-size="4.4" fill="#484848" text-anchor="start">−60</text></g>
<text x="233.2" y="544" font-family="Liberation Serif, serif" font-size="13" font-weight="bold" fill="#111" text-anchor="middle">(a)</text></svg>
<canvas id="p0" width="114" height="92" style="position:absolute;left:10px;top:413px"></canvas><canvas id="p1" width="110" height="92" style="position:absolute;left:158px;top:413px"></canvas><canvas id="p2" width="110" height="92" style="position:absolute;left:314px;top:413px"></canvas>
<script>
function jet(t){t=Math.max(0,Math.min(1,t));
 var r=Math.max(0,Math.min(1,1.5-Math.abs(4*t-3))),g=Math.max(0,Math.min(1,1.5-Math.abs(4*t-2))),b=Math.max(0,Math.min(1,1.5-Math.abs(4*t-1)));
 return [r*255,g*255,b*255];}
function ip(xs,ys,x){if(x<=xs[0])return ys[0];for(var i=1;i<xs.length;i++){if(x<=xs[i]){var f=(x-xs[i-1])/(xs[i]-xs[i-1]);return ys[i-1]+f*(ys[i]-ys[i-1]);}}return ys[ys.length-1];}
function G(x,s){return Math.exp(-x*x/(s*s));}
function draw(id, ox, oy, ccx, ccy, a, b, fn, lo, hi){
 var c=document.getElementById(id); if(!c) return; var ctx=c.getContext('2d');
 var W=c.width,H=c.height; var im=ctx.createImageData(W,H); var d=im.data; var S=3;
 for(var y=0;y<H;y++)for(var x=0;x<W;x++){
  var R=0,Gg=0,B=0,A=0;
  for(var sy=0;sy<S;sy++)for(var sx=0;sx<S;sx++){
   var u=(x+(sx+0.5)/S+ox-ccx)/a, v=(y+(sy+0.5)/S+oy-ccy)/b; var r=Math.sqrt(u*u+v*v);
   if(r>1.0)continue;
   var col=jet((fn(u,v,r)-lo)/(hi-lo)); R+=col[0];Gg+=col[1];B+=col[2];A+=1;
  }
  var k=(y*W+x)*4;
  if(A>0){d[k]=R/A;d[k+1]=Gg/A;d[k+2]=B/A;d[k+3]=255*A/(S*S);}
 }
 ctx.putImageData(im,0,0);
}
function p1(u,v,r){
 var ph=Math.atan2(v,u);
 var rw=r-0.025*Math.cos(8*ph);
 var g=ip([0,0.14,0.18,0.3,0.42,0.48,0.54,0.63,0.68,0.72,0.78,0.86],
          [13,13,12.5,13.5,12,8.5,12,12.5,7,-1,-2,-6],rw);
 var c2=Math.abs(Math.cos(2*ph));
 g+=ip([0.9,0.95,0.98,1.0],[0,-1,-7,-10],r)*(1-0.4*Math.pow(c2,8));
 var r4=Math.pow(Math.pow(Math.abs(u),4)+Math.pow(Math.abs(v),4),0.25);
 g=Math.max(g,ip([0,0.05,0.09,0.12,0.145],[31,28,23,12,-30],r4));
 if(r4>0.11&&r4<0.16) g=Math.min(g,ip([0.11,0.13,0.16],[12,9,13],r4));
 g+=3*(-Math.cos(4*ph))*G(r-0.3,0.1);
 g+=7*Math.max(0,Math.cos(12*ph)+0.35)/1.35*G(r-0.79,0.04);
 var lr=0.97-0.1*Math.pow(c2,6);
 g-=9*G(r-lr,0.012);
 var lr2=0.98-0.1*Math.pow(Math.abs(Math.cos(2*ph+0.35)),8);
 var lr3=0.98-0.1*Math.pow(Math.abs(Math.cos(2*ph-0.35)),8);
 g-=6*G(r-lr2,0.013)+6*G(r-lr3,0.013);
 return Math.max(g,-22);
}
function p2(u,v,r){
 var du=(u+0.36)/0.55, dv=v/(v<0?0.64:0.7); var rr=Math.sqrt(du*du+dv*dv);
 var g=ip([0,0.6,0.9,1.05,1.3,1.6,1.9],[12.5,12.5,10.5,7,3,-1,-4],rr);
 var arc=u-0.3*v*v;
 g+=3*G(arc+0.62,0.1)*G(v,0.5)+3*G(arc+0.2,0.1)*G(v,0.55)-1.5*G(arc+0.41,0.05);
 g+=3*Math.cos(14*v)*G(rr-1.0,0.2);
 var bu=u-0.5, bv=v; var rb=Math.sqrt(bu*bu+bv*bv);
 g+=5*Math.cos(26*rb+0.5)*(1-G(rr,0.9))*(0.55+0.45*Math.cos(13*v+4*u));
 g-=5*Math.max(0,u-0.4)*(1-G(v,0.12));
 g+=-10*Math.pow(Math.max(0,Math.cos(16*v-5*u*u)),8)*Math.max(0,Math.min(1,(u-0.55)*5));
 var b4=Math.pow(Math.pow(Math.abs(bu),4)+Math.pow(Math.abs(bv)*1.08,4),0.25);
 g=Math.max(g,ip([0,0.05,0.1,0.125,0.15,0.2],[31,28,22,12,4,-10],b4));
 g+=ip([0.84,0.93,1.0],[0,-5,-8],r)-9*G(r-0.975,0.018)*Math.max(0,Math.min(1,(u+0.4)*2))*Math.min(1,Math.abs(v)*1.5+Math.max(0,u));
 return Math.max(g,-21);
}
function p3(u,v,r){
 var du=(u+0.36)/0.58, dv=v/0.68; var rr=Math.sqrt(du*du+dv*dv);
 var g=ip([0,0.7,0.95,1.1,1.4,1.8],[-15.5,-16,-19,-23,-25,-26],rr);
 g+=2.5*Math.cos(11*u+0.5)*Math.cos(9*v)*G(rr,0.9);
 var ch=u+0.02-0.9*Math.abs(v);
 g-=6*G(ch,0.04)*G(v,0.35);
 g+=4*G(u-0.12+0.5*Math.abs(v),0.07)*G(v,0.4);
 var bu=u-0.84, bv=v; var rb=Math.sqrt(bu*bu+bv*bv*1.05);
 g+=5*Math.cos(22*rb+0.6)*(1-G(rr,1.0))*(0.5+0.5*Math.cos(15*v+5*u));
 g+=4*Math.cos(20*u)*Math.cos(16*v)*(1-G(rr,1.1))*(1-G(rb,0.3));
 g-=5*G(u-0.55-0.3*Math.abs(v),0.04)*G(v,0.5);
 g=Math.max(g,ip([0,0.05,0.09,0.13,0.17,0.22],[-1,-4,-10,-16,-22,-40],rb));
 g+=ip([0.86,0.94,1.0],[0,-8,-12],r)-8*G(r-0.98,0.02)*Math.pow(Math.abs(v),2);
 return Math.max(g,-52);
}
draw('p0',10,413,66.3,458.9,54,44.4,p1,-30,30);
draw('p1',158,413,213.8,458.9,51.5,44.4,p2,-30,30);
draw('p2',314,413,368.8,458.9,51.5,44.4,p3,-60,0);

</script>
</body></html>
